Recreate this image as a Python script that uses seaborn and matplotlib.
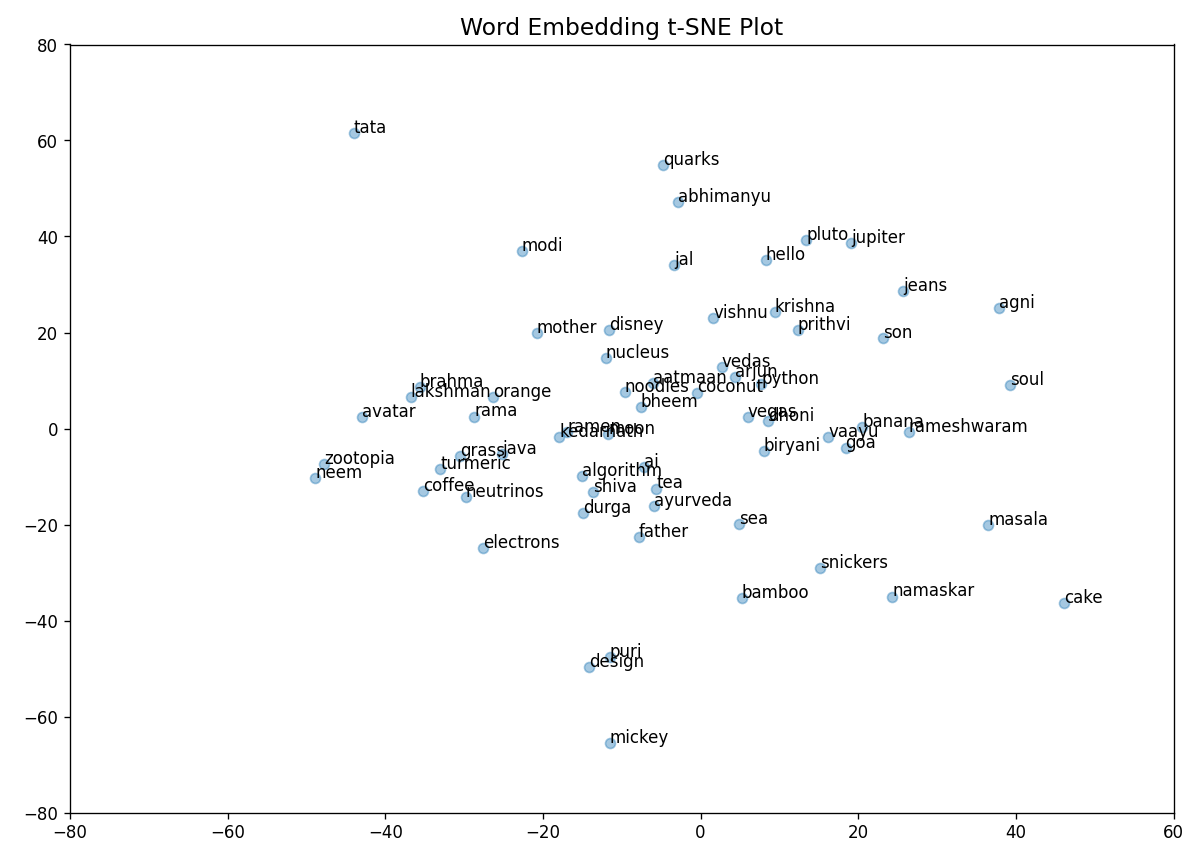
import matplotlib

matplotlib.use("Agg")
import matplotlib.pyplot as plt
import pandas as pd
import seaborn as sns

# words and their 2-D t-SNE coordinates
words = [
    "tata", "quarks", "abhimanyu", "modi", "jal", "pluto", "jupiter", "hello",
    "jeans", "agni", "krishna", "vishnu", "prithvi", "son", "mother", "disney",
    "nucleus", "vedas", "arjun", "python", "coconut", "aatmaan", "noodles", "bheem",
    "soul", "vegas", "dhoni", "banana", "rameshwaram", "vaayu", "goa", "biryani",
    "masala", "sea", "snickers", "bamboo", "namaskar", "cake", "puri", "design",
    "mickey", "brahma", "lakshman", "orange", "avatar", "rama", "kedarnath", "ramen",
    "moon", "grass", "java", "zootopia", "neem", "turmeric", "coffee", "neutrinos",
    "electrons", "algorithm", "ai", "shiva", "tea", "ayurveda", "durga", "father",
]
x_vals = [
    -44.0, -4.8, -2.9, -22.7, -3.4, 13.4, 19.1, 8.3,
    25.7, 37.9, 9.4, 1.6, 12.3, 23.2, -20.8, -11.6,
    -12.0, 2.7, 4.4, 7.7, -0.4, -6.0, -9.6, -7.6,
    39.3, 6.0, 8.6, 20.5, 26.4, 16.2, 18.4, 8.0,
    36.5, 4.9, 15.1, 5.2, 24.3, 46.1, -11.5, -14.1,
    -11.5, -35.6, -36.8, -26.3, -43.0, -28.7, -17.9, -16.9,
    -11.7, -30.5, -25.2, -47.8, -48.9, -33.0, -35.2, -29.8,
    -27.6, -15.0, -7.2, -13.6, -5.6, -5.9, -14.9, -7.8,
]
y_vals = [
    61.6, 54.8, 47.2, 37.0, 34.1, 39.3, 38.7, 35.1,
    28.7, 25.1, 24.3, 23.0, 20.6, 18.9, 19.9, 20.5,
    14.7, 12.8, 10.8, 9.3, 7.5, 9.4, 7.6, 4.4,
    9.1, 2.3, 1.6, 0.3, -0.7, -1.8, -4.0, -4.7,
    -20.1, -19.9, -29.1, -35.4, -35.0, -36.4, -47.6, -49.7,
    -65.5, 8.6, 6.5, 6.5, 2.3, 2.5, -1.8, -0.7,
    -1.1, -5.7, -5.3, -7.3, -10.4, -8.5, -13.0, -14.2,
    -24.8, -9.8, -8.1, -13.2, -12.5, -16.1, -17.6, -22.7,
]

df = pd.DataFrame({"word": words, "x": x_vals, "y": y_vals})

fig = plt.figure(figsize=(10, 860 / 120), dpi=120)
ax = fig.add_axes([70 / 1200, 1 - 812.5 / 860, 1103.5 / 1200, 768 / 860])

sns.scatterplot(
    data=df, x="x", y="y", s=36, alpha=0.4,
    color="C0", edgecolor="C0", linewidth=1.0, ax=ax,
)
for _, row in df.iterrows():
    ax.annotate(row["word"], (row["x"], row["y"]), fontsize=10)

ax.set_xlim(-80, 60)
ax.set_ylim(-80, 80)
ax.set_xlabel("")
ax.set_ylabel("")
ax.set_title("Word Embedding t-SNE Plot", fontsize=14)

fig.savefig("out.png", dpi=120)
